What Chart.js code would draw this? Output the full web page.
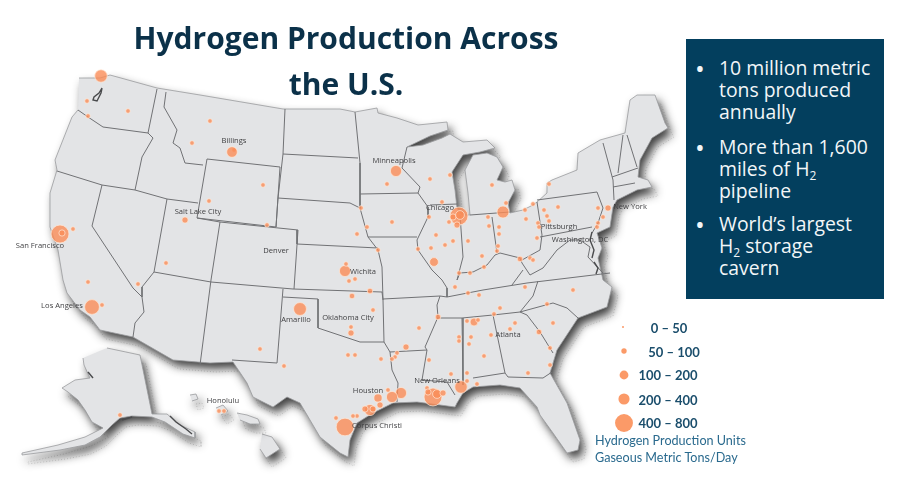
<!DOCTYPE html>
<html>
<head>
<meta charset="utf-8">
<script src="https://cdn.jsdelivr.net/npm/chart.js@4"></script>
<style>
  html, body { margin: 0; padding: 0; background: #fff; }
  #wrap { position: relative; width: 897px; height: 500px; overflow: hidden; }
  #mapa { position: absolute; left: 0; top: 0; filter: blur(0.4px); }
  .abs { position: absolute; white-space: nowrap; }
  #titulo { left: 46px; width: 600px; top: 15px; text-align: center; font: bold 30px/46px "Open Sans", sans-serif; color: #0b3149; }
  #painel { left: 686px; top: 39px; width: 198px; height: 260px; background: #033f5e; }
  .linha { position: absolute; left: 33px; color: #f2f6f8; font: 19.4px/22px "Open Sans", sans-serif; white-space: nowrap; }
  .linha sub { font-size: 12px; line-height: 0; vertical-align: -4px; }
  .bala { position: absolute; left: 9px; color: #f2f6f8; font: 26px/22px "Open Sans", sans-serif; }
  .faixa { font: bold 13px/16px Lato, sans-serif; color: #1b4e6c; text-align: center; }
  .nota { left: 595px; font: 12.6px/16px Lato, sans-serif; color: #2a6a8e; }
</style>
</head>
<body>
<div id="wrap">
  <canvas id="mapa" width="897" height="500"></canvas>
  <div id="titulo" class="abs">Hydrogen Production Across<br>the U.S.</div>
  <div id="painel" class="abs">
    <div class="bala" style="top:18px">•</div>
    <div class="linha" style="top:18px">10 million metric</div>
    <div class="linha" style="top:40px">tons produced</div>
    <div class="linha" style="top:62px">annually</div>
    <div class="bala" style="top:97px">•</div>
    <div class="linha" style="top:97px">More than 1,600</div>
    <div class="linha" style="top:119px">miles of H<sub>2</sub></div>
    <div class="linha" style="top:141px">pipeline</div>
    <div class="bala" style="top:174px">•</div>
    <div class="linha" style="top:174px">World’s largest</div>
    <div class="linha" style="top:196px">H<sub>2</sub> storage</div>
    <div class="linha" style="top:218px">cavern</div>
  </div>
  <div class="abs faixa" style="left:639px;width:60px;top:320px">0 – 50</div>
  <div class="abs faixa" style="left:644px;width:60px;top:344px">50 – 100</div>
  <div class="abs faixa" style="left:638px;width:60px;top:367px">100 – 200</div>
  <div class="abs faixa" style="left:638px;width:60px;top:392px">200 – 400</div>
  <div class="abs faixa" style="left:638px;width:60px;top:415px">400 – 800</div>
  <div class="abs nota" style="top:433px">Hydrogen Production Units</div>
  <div class="abs nota" style="top:450px">Gaseous Metric Tons/Day</div>
</div>
<script>
// contorno dos 48 estados (coordenadas do mapa)
const contornoEUA = [[79,78],[100,78],[110,75],[157,88],[200,95],[283,109],[340,109],[355,112],[377,108],[378,113],[397,118],[418,125],[447,122],[448,130],[430,136],[407,147],[423,145],[442,138],[450,134],[463,142],[487,140],[495,148],[480,152],[463,155],[452,172],[455,190],[457,208],[462,215],[470,215],[468,193],[465,170],[473,155],[487,153],[497,157],[503,167],[497,180],[505,182],[512,180],[515,190],[508,203],[510,213],[523,210],[533,205],[537,202],[547,193],[547,183],[552,180],[577,170],[578,153],[600,140],[625,133],[630,100],[637,95],[655,95],[665,123],[668,128],[652,138],[640,160],[638,177],[648,180],[652,187],[637,190],[617,200],[613,207],[610,227],[597,233],[602,248],[598,258],[603,280],[612,287],[607,307],[578,318],[557,350],[550,373],[567,403],[580,440],[578,450],[567,453],[553,433],[540,415],[537,407],[520,388],[500,385],[473,387],[463,393],[457,403],[455,407],[440,405],[417,402],[393,403],[373,413],[357,423],[350,440],[348,457],[340,453],[320,437],[310,420],[300,403],[287,397],[273,407],[253,397],[247,383],[233,362],[210,363],[173,360],[133,337],[100,330],[90,317],[80,310],[67,293],[63,280],[58,250],[50,227],[50,193],[57,170],[55,160],[72,117],[78,110]];
const contornoAlasca = [[107,348],[140,355],[152,414],[167,414],[180,425],[195,432],[195,438],[183,434],[165,422],[152,417],[132,416],[120,418],[112,425],[100,437],[85,445],[60,450],[22,455],[22,453],[58,445],[85,437],[103,428],[92,422],[85,410],[78,400],[68,392],[62,388],[75,380],[90,378],[84,365],[83,358]];
const ilhaKauai = [[190,395],[196,394],[198,399],[192,401]];
const ilhaOahu = [[216,408],[223,405],[228,411],[221,415]];
const ilhaMaui = [[237,413],[247,415],[258,419],[260,424],[250,424],[240,420]];
const ilhaGrande = [[262,434],[272,437],[280,449],[266,458],[260,449]];

// divisas entre estados
const divisas = [
  [[78,110],[88,117],[103,127],[148,133]],
  [[157,89],[148,133],[153,138],[142,157],[135,190]],
  [[57,171],[102,185],[135,190],[167,199],[198,203]],
  [[166,92],[164,107],[177,130],[173,143],[180,148],[185,163],[203,165]],
  [[207,159],[280,167],[276,227],[197,218],[207,159]],
  [[197,218],[220,222],[298,230],[294,289]],
  [[167,199],[154,272],[211,282],[293,289],[382,292]],
  [[220,222],[211,280],[200,365]],
  [[102,185],[92,226],[133,288],[142,297],[144,312],[135,323],[133,337]],
  [[154,272],[142,287],[142,297]],
  [[283,289],[277,363],[232,360]],
  [[283,297],[318,299],[318,328],[333,333],[360,342],[384,342]],
  [[382,292],[383,300],[384,342],[390,352],[392,370],[398,383],[397,402]],
  [[285,109],[283,154],[278,198],[276,227]],
  [[283,154],[358,158]],
  [[278,198],[350,203],[360,208],[368,237],[378,250],[382,267],[383,300]],
  [[297,230],[297,244],[378,248]],
  [[355,112],[360,163],[360,208]],
  [[360,194],[418,193]],
  [[407,147],[402,168],[420,187],[418,193],[428,207],[428,217],[417,240],[418,250],[432,270],[442,280],[447,288],[447,297]],
  [[430,205],[457,204]],
  [[368,237],[417,237]],
  [[383,299],[440,296],[437,305],[438,317],[425,347],[427,350],[422,380],[447,382],[455,395]],
  [[390,352],[427,350]],
  [[438,318],[462,318],[493,315],[520,312],[553,303],[567,308],[578,318]],
  [[440,296],[447,297],[483,290],[527,283],[610,273]],
  [[520,312],[533,296],[538,281]],
  [[520,312],[527,315],[540,332],[553,353]],
  [[462,318],[463,385]],
  [[493,315],[505,373],[508,377],[543,378],[552,372]],
  [[473,378],[505,373]],
  [[460,215],[463,257],[457,280],[460,273],[473,272],[487,265],[495,255],[500,253],[520,258],[522,263],[530,275],[543,268],[557,250],[570,240],[580,240]],
  [[492,217],[497,253]],
  [[470,215],[510,212]],
  [[522,260],[540,250],[542,235],[537,202]],
  [[540,237],[592,227]],
  [[537,200],[597,192],[603,208],[598,223],[592,233]],
  [[512,285],[523,270]],
  [[603,143],[613,180],[614,200]],
  [[612,177],[638,168]],
  [[613,187],[635,183]],
  [[623,135],[618,173]],
  [[627,135],[637,167]],
  [[580,240],[590,247],[588,257],[603,273]]
];

// água e recortes escuros
const recortes = [
  [[102,88],[99,93],[94,97],[93,100],[97,101],[101,93],[102,88]],
  [[592,232],[590,240],[594,250],[592,258]],
  [[594,262],[598,268],[596,274]],
  [[170,416],[176,422],[186,429],[192,434]],
  [[93,378],[88,372]],
  [[132,417],[122,420]]
];

// plantas de hidrogênio: noroeste e oeste
const oesteX = [101,87,88,128,210,192,234,232,263,209,185,267,73,60,62,166,88,138,92,102,300,260,284,120,219,224,336];
const oesteY = [76,101,116,111,121,143,150,152,185,201,220,225,229,234,233,263,282,284,307,305,309,349,366,415,411,411,418];
const oesteTon = [300,40,40,40,40,40,40,220,40,40,75,40,40,620,75,40,40,40,420,40,320,40,40,40,40,40,40];
// centro-norte e grandes lagos
const lagosX = [396,387,430,450,492,549,442,361,429,392,367,357,459,453,457,449,460,488,489,499,499,503,506,525,533,526,544,547,549,558,538,539,537,598,608,603,598,597];
const lagosY = [171,184,179,175,185,184,202,208,217,222,227,234,216,217,225,222,215,217,226,227,234,212,203,210,204,219,210,216,221,207,223,227,238,208,208,217,223,227];
const lagosTon = [240,40,40,40,40,40,40,40,40,40,40,40,620,75,75,40,150,40,40,40,40,280,40,40,40,40,40,40,40,40,40,40,40,40,75,40,40,40];
// vale do Ohio
const ohioX = [436,453,445,431,418,468,434,378,482,498,497,484,520,530,533,459,470,455,468,479,525,573,547,500];
const ohioY = [235,241,245,248,249,241,262,250,256,246,251,267,259,258,260,273,273,287,293,295,287,290,304,308];
const ohioTon = [40,40,40,40,40,40,150,40,40,40,40,40,60,40,40,40,40,40,40,40,40,40,40,40];
// planícies e sul
const sulX = [345,346,349,355,352,370,373,351,351,348,355,381,419,438,406,397,395,392,429,467,474,478,494,515,510,553,539,550,550,528,491,459,459,471,469,484,451,467,467,477,461];
const sulY = [271,264,281,279,296,291,310,327,333,355,355,359,328,317,347,353,357,359,360,321,322,320,314,323,329,323,332,348,365,373,335,337,341,337,344,356,374,373,381,384,387];
const sulTon = [240,40,40,40,60,60,40,40,75,40,40,40,40,60,75,40,40,40,40,40,120,40,40,40,40,40,60,40,40,40,40,40,40,40,40,40,40,40,40,40,300];
// costa do golfo
const golfoX = [433,427,428,437,443,401,392,388,378,380,370,365,373,357,353,345];
const golfoY = [397,388,392,394,393,393,397,390,398,405,410,409,409,416,416,427];
const golfoTon = [620,40,75,150,75,240,240,40,130,75,240,75,75,40,40,600];

// legenda de faixas
const faixaX = [623,624,624,624,624];
const faixaY = [327,351,375,399,423];
const faixaTon = [8,55,150,240,620];

// cidades
const cidadeNome = ["Billings","Salt Lake City","San Francisco","Denver","Los Angeles","Amarillo","Oklahoma City","Wichita","Minneapolis","Chicago","Pittsburgh","Washington, DC","New York","Atlanta","New Orleans","Houston","Corpus Christi","Honolulu"];
const cidadeX = [234,198,40,276,62,296,348,363,394,440,559,580,630,508,437,368,377,223];
const cidadeY = [141,212,246,251,306,320,318,272,161,208,227,240,207,335,381,391,426,401];

const raio = ton => 0.36 * Math.sqrt(ton);
const pontos = c => c.map(p => ({ x: p[0], y: p[1] }));
const bolhas = (xs, ys, tons) => xs.map((x, i) => ({ x, y: ys[i], r: raio(tons[i]) }));

const terras = [contornoEUA, contornoAlasca, ilhaKauai, ilhaOahu, ilhaMaui, ilhaGrande];

const datasets = [];
[[oesteX, oesteY, oesteTon], [lagosX, lagosY, lagosTon], [ohioX, ohioY, ohioTon], [sulX, sulY, sulTon], [golfoX, golfoY, golfoTon]].forEach(g => datasets.push({
  type: "bubble",
  order: 0,
  data: bolhas(g[0], g[1], g[2]),
  backgroundColor: "rgba(250,140,88,0.8)",
  borderColor: "rgba(255,232,215,0.7)",
  borderWidth: 1
}));
datasets.push({
  type: "bubble",
  order: 0,
  data: bolhas(faixaX, faixaY, faixaTon),
  backgroundColor: "#fb9a68",
  borderWidth: 0
});
recortes.forEach(d => datasets.push({
  type: "line",
  order: 1,
  data: pontos(d),
  borderColor: "#4a4b4d",
  borderWidth: 1.4,
  pointRadius: 0,
  fill: false,
  tension: 0
}));
divisas.forEach(d => datasets.push({
  type: "line",
  order: 1,
  data: pontos(d),
  borderColor: "#717275",
  borderWidth: 1,
  pointRadius: 0,
  fill: false,
  tension: 0
}));
terras.forEach(t => datasets.push({
  type: "line",
  order: 2,
  terra: true,
  data: pontos(t),
  borderColor: "#9b9c9e",
  borderWidth: 0.8,
  pointRadius: 0,
  fill: false,
  tension: 0
}));

// sombra do litoral e preenchimento das terras
const sombraTerra = {
  id: "sombraTerra",
  beforeDatasetDraw(chart, args) {
    if (!chart.data.datasets[args.index].terra) return;
    const ctx = chart.ctx;
    const linha = args.meta.dataset;
    ctx.save();
    ctx.translate(6, 9);
    ctx.beginPath();
    linha.path(ctx);
    ctx.closePath();
    ctx.setLineDash([1, 2]);
    ctx.strokeStyle = "rgba(120,120,120,0.4)";
    ctx.lineWidth = 0.7;
    ctx.stroke();
    ctx.restore();
    ctx.save();
    ctx.beginPath();
    linha.path(ctx);
    ctx.closePath();
    ctx.shadowColor = "rgba(30,30,30,0.85)";
    ctx.shadowBlur = 10;
    ctx.shadowOffsetX = 4;
    ctx.shadowOffsetY = 6;
    ctx.fillStyle = "#e3e4e6";
    ctx.fill();
    ctx.restore();
  }
};

// nomes das cidades
const nomesCidades = {
  id: "nomesCidades",
  afterDatasetsDraw(chart) {
    const ctx = chart.ctx;
    ctx.save();
    ctx.font = '7.6px "Open Sans", sans-serif';
    ctx.fillStyle = "#3f3f41";
    ctx.textAlign = "center";
    ctx.textBaseline = "middle";
    cidadeNome.forEach((nome, i) => {
      ctx.fillText(nome, chart.scales.x.getPixelForValue(cidadeX[i]), chart.scales.y.getPixelForValue(cidadeY[i]));
    });
    ctx.restore();
  }
};

new Chart(document.getElementById("mapa"), {
  type: "bubble",
  data: { datasets },
  options: {
    responsive: false,
    animation: false,
    layout: { padding: 0, autoPadding: false },
    clip: false,
    scales: {
      x: { type: "linear", min: 0, max: 897, display: false },
      y: { type: "linear", min: 0, max: 500, reverse: true, display: false }
    },
    plugins: { legend: { display: false }, tooltip: { enabled: false }, title: { display: false } }
  },
  plugins: [sombraTerra, nomesCidades]
});
</script>
</body>
</html>
